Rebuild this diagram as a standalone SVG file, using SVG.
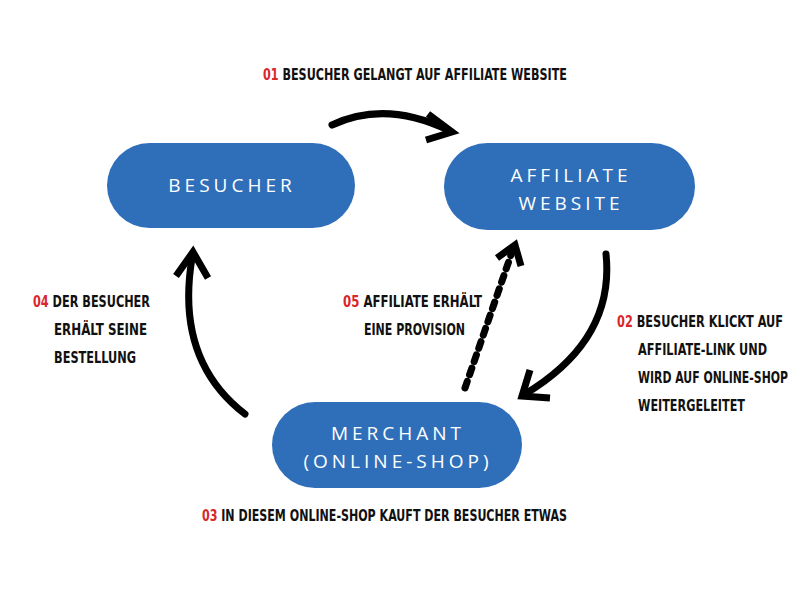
<svg xmlns="http://www.w3.org/2000/svg" width="800" height="600" viewBox="0 0 800 600">
<style>
.node{fill:#2f6fba}
.nt{fill:#fff;font-family:"Open Sans","DejaVu Sans",sans-serif;font-size:19px;letter-spacing:4px;text-anchor:middle}
.cap{font-family:"DejaVu Sans Condensed","DejaVu Sans",sans-serif;font-weight:bold;font-size:15px;fill:#111}
.num{fill:#d8262b}
.arr{fill:none;stroke:#000;stroke-width:7;stroke-linecap:round}
.head{fill:none;stroke:#000;stroke-width:7;stroke-linejoin:miter;stroke-linecap:butt}
</style>
<rect width="800" height="600" fill="#fff"/>
<g id="besucher"><rect class="node" x="107" y="143" width="248" height="85" rx="42.5"/><text class="nt" x="232" y="192">BESUCHER</text></g>
<g id="affiliate"><rect class="node" x="444" y="143" width="251" height="87" rx="43.5"/><text class="nt" x="571" y="182">AFFILIATE</text><text class="nt" x="571" y="210">WEBSITE</text></g>
<g id="merchant"><rect class="node" x="272" y="402" width="250" height="86" rx="43"/><text class="nt" x="398" y="440">MERCHANT</text><text class="nt" x="398" y="468">(ONLINE-SHOP)</text></g>
<g id="connectors">
<path class="arr" d="M332,125 Q385,100 448,130"/>
<path class="head" d="M428,114 L452,132 L426,140"/>
<path class="arr" d="M606,254 Q615,340 525,394"/>
<path class="head" d="M530,370 L522,396 L550,398"/>
<path class="arr" d="M245,414 Q175,360 192,258"/>
<path class="head" d="M176,276 L193,252 L208,278"/>
<path class="arr" d="M465,388 L512,252" stroke-dasharray="7,7" stroke-width="5"/>
<path class="head" d="M497,258 L515,245 L521,266" stroke-width="5"/>
</g>
<g id="labels">
<text class="cap" x="263" y="80" textLength="304" lengthAdjust="spacingAndGlyphs"><tspan class="num">01</tspan> BESUCHER GELANGT AUF AFFILIATE WEBSITE</text>
<text class="cap" x="617" y="327" textLength="166" lengthAdjust="spacingAndGlyphs"><tspan class="num">02</tspan> BESUCHER KLICKT AUF</text>
<text class="cap" x="638" y="355" textLength="129" lengthAdjust="spacingAndGlyphs">AFFILIATE-LINK UND</text>
<text class="cap" x="638" y="383" textLength="150" lengthAdjust="spacingAndGlyphs">WIRD AUF ONLINE-SHOP</text>
<text class="cap" x="638" y="411" textLength="107" lengthAdjust="spacingAndGlyphs">WEITERGELEITET</text>
<text class="cap" x="202" y="521" textLength="365" lengthAdjust="spacingAndGlyphs"><tspan class="num">03</tspan> IN DIESEM ONLINE-SHOP KAUFT DER BESUCHER ETWAS</text>
<text class="cap" x="33" y="307" textLength="117" lengthAdjust="spacingAndGlyphs"><tspan class="num">04</tspan> DER BESUCHER</text>
<text class="cap" x="54" y="335" textLength="93" lengthAdjust="spacingAndGlyphs">ERHÄLT SEINE</text>
<text class="cap" x="54" y="363" textLength="82" lengthAdjust="spacingAndGlyphs">BESTELLUNG</text>
<text class="cap" x="343" y="307" textLength="139" lengthAdjust="spacingAndGlyphs"><tspan class="num">05</tspan> AFFILIATE ERHÄLT</text>
<text class="cap" x="364" y="335" textLength="101" lengthAdjust="spacingAndGlyphs">EINE PROVISION</text>
</g>
</svg>
